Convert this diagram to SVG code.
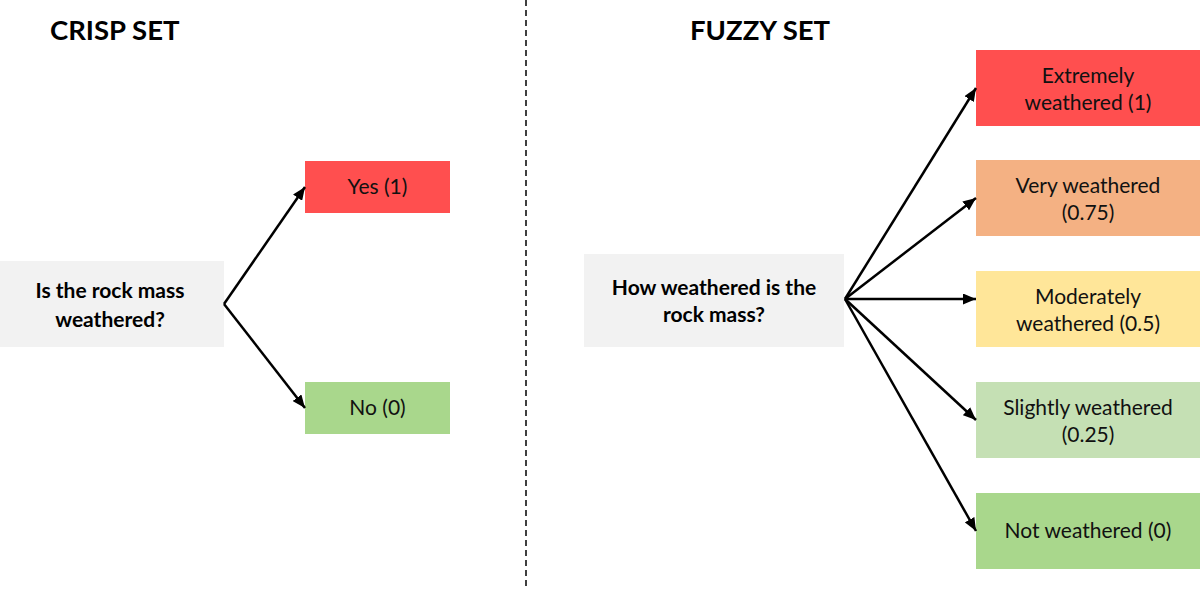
<svg xmlns="http://www.w3.org/2000/svg" width="1200" height="589" viewBox="0 0 1200 589">
<defs>
<marker id="arr" viewBox="0 0 13 11" refX="13" refY="5.5" markerWidth="13" markerHeight="11" markerUnits="userSpaceOnUse" orient="auto">
<path d="M0,0 L13,5.5 L0,11 Z" fill="#000"/>
</marker>
<style>
.title{font-family:Lato,"Liberation Sans",sans-serif;font-weight:bold;font-size:27.5px;fill:#000}
.q{font-family:Lato,"Liberation Sans",sans-serif;font-weight:bold;font-size:21px;fill:#000;text-anchor:middle}
.t{font-family:Lato,"Liberation Sans",sans-serif;font-size:21px;fill:#111;text-anchor:middle}
.c{stroke:#000;stroke-width:2.5;fill:none;marker-end:url(#arr)}
</style>
</defs>
<rect width="1200" height="589" fill="#fff"/>
<line x1="526" y1="0" x2="526" y2="589" stroke="#000" stroke-width="1.5" stroke-dasharray="6,4"/>
<text class="title" x="50" y="40">CRISP SET</text>
<text class="title" x="690" y="40">FUZZY SET</text>

<g id="crisp-question">
<rect x="0" y="261" width="224" height="86" fill="#F2F2F2"/>
<text class="q" x="110" y="298">Is the rock mass</text>
<text class="q" x="110" y="327">weathered?</text>
</g>
<g id="crisp-yes">
<rect x="305" y="161" width="145" height="52" fill="#FF4F4F"/>
<text class="t" x="377.5" y="194">Yes (1)</text>
</g>
<g id="crisp-no">
<rect x="305" y="382" width="145" height="52" fill="#A9D78C"/>
<text class="t" x="377.5" y="415">No (0)</text>
</g>

<g id="fuzzy-question">
<rect x="584" y="254" width="260" height="93" fill="#F2F2F2"/>
<text class="q" x="714" y="295">How weathered is the</text>
<text class="q" x="714" y="322">rock mass?</text>
</g>
<g id="fuzzy-extremely">
<rect x="976" y="50" width="224" height="76" fill="#FF4F4F"/>
<text class="t" x="1088" y="83">Extremely</text>
<text class="t" x="1088" y="110">weathered (1)</text>
</g>
<g id="fuzzy-very">
<rect x="976" y="160" width="224" height="76" fill="#F4B183"/>
<text class="t" x="1088" y="193">Very weathered</text>
<text class="t" x="1088" y="220">(0.75)</text>
</g>
<g id="fuzzy-moderately">
<rect x="976" y="271" width="224" height="76" fill="#FFE699"/>
<text class="t" x="1088" y="304">Moderately</text>
<text class="t" x="1088" y="331">weathered (0.5)</text>
</g>
<g id="fuzzy-slightly">
<rect x="976" y="382" width="224" height="76" fill="#C5E0B4"/>
<text class="t" x="1088" y="415">Slightly weathered</text>
<text class="t" x="1088" y="442">(0.25)</text>
</g>
<g id="fuzzy-not">
<rect x="976" y="493" width="224" height="76" fill="#A9D78C"/>
<text class="t" x="1088" y="538">Not weathered (0)</text>
</g>

<g id="connectors">
<line class="c" x1="224" y1="304" x2="305" y2="187"/>
<line class="c" x1="224" y1="304" x2="305" y2="408"/>
<line class="c" x1="845" y1="299" x2="976" y2="88"/>
<line class="c" x1="845" y1="299" x2="976" y2="198"/>
<line class="c" x1="845" y1="299" x2="976" y2="299"/>
<line class="c" x1="845" y1="299" x2="976" y2="420"/>
<line class="c" x1="845" y1="299" x2="976" y2="531"/>
</g>
</svg>
